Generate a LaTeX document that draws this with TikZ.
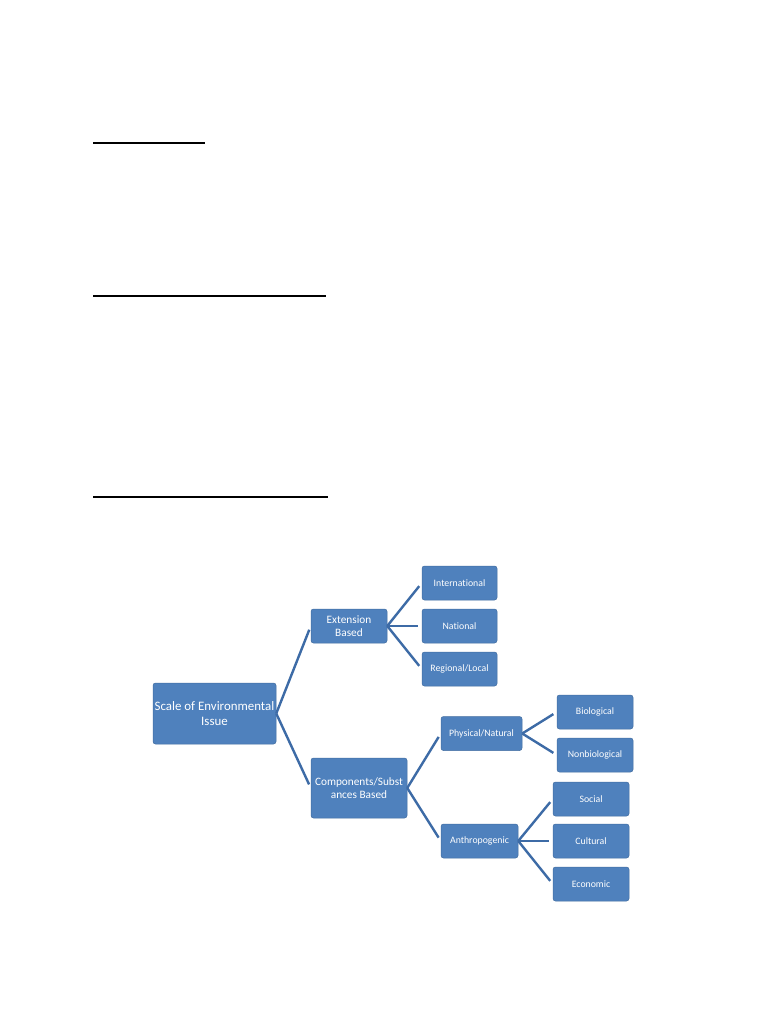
\documentclass[tikz,border=0pt]{standalone}
\usepackage{fontspec}
\setmainfont[Ligatures={NoCommon}]{Carlito}
\usetikzlibrary{positioning}
\definecolor{boxblue}{HTML}{4F81BD}
\definecolor{linkblue}{HTML}{3D6BA6}
\tikzset {
  box/.style={rectangle,rounded corners=2.5pt,fill=boxblue,draw=boxblue!85!black,
    line width=.5pt,text=white,align=center,inner sep=1pt,font=\fontsize{9.8}{11}\selectfont},
  midbox/.style={box,font=\fontsize{11.3}{13}\selectfont},
  link/.style={draw=linkblue,line width=2.4pt,shorten >=4pt},
  rule/.style={line width=1.6pt},
}

\begin{document}
\begin{tikzpicture}[x=1pt,y=-1pt]
  \useasboundingbox[fill=white] (0,0) rectangle (768,1024);

  % underlines
  \draw[rule] (93,143) -- (205,143);
  \draw[rule] (93,296) -- (326,296);
  \draw[rule] (93,497) -- (328,497);

  % levels
  \node[box,minimum width=123pt,minimum height=61pt,font=\fontsize{12.9}{15}\selectfont]
    (root) at (214.5,713.5) {Scale of Environmental\\Issue};

  \node[midbox,minimum width=76pt,minimum height=34pt] (ext) at (349,626) {Extension\\Based};
  \node[midbox,minimum width=96pt,minimum height=60pt] (comp) at (359,788) {Components/Subst\\ances Based};

  \node[box,minimum width=75pt,minimum height=34pt] (intl) at (459.5,583) {International};
  \node[box,minimum width=75pt,minimum height=34pt] (natl) at (459.5,626) {National};
  \node[box,minimum width=75pt,minimum height=34pt] (regl) at (459.5,669) {Regional/Local};

  \node[box,minimum width=81pt,minimum height=34pt] (phys) at (481.5,733.5) {Physical/Natural};
  \node[box,minimum width=77pt,minimum height=34pt] (anth) at (479.5,841) {Anthropogenic};

  \node[box,minimum width=76pt,minimum height=34pt] (bio) at (595,712) {Biological};
  \node[box,minimum width=76pt,minimum height=34pt] (nonbio) at (595,755) {Nonbiological};

  \node[box,minimum width=76pt,minimum height=34pt] (soc) at (591,799) {Social};
  \node[box,minimum width=76pt,minimum height=34pt] (cult) at (591,841) {Cultural};
  \node[box,minimum width=76pt,minimum height=34pt] (econ) at (591,884) {Economic};

  % branches
  \draw[link] (root.east) -- (ext.west);
  \draw[link] (root.east) -- (comp.west);
  \foreach \k in {intl,natl,regl}
    \draw[link] (ext.east) -- (\k.west);
  \draw[link] (comp.east) -- (phys.west);
  \draw[link] (comp.east) -- (anth.west);
  \foreach \k in {bio,nonbio}
    \draw[link] (phys.east) -- (\k.west);
  \foreach \k in {soc,cult,econ}
    \draw[link] (anth.east) -- (\k.west);
\end{tikzpicture}
\end{document}
